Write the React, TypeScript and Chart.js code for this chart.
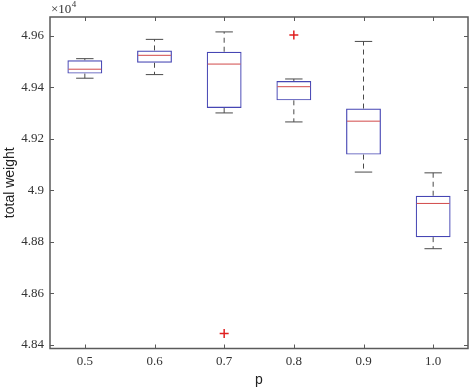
import React, { useEffect, useRef } from "react";
import { Chart, registerables } from "chart.js";

Chart.register(...registerables);

// ---- data (total weight, actual units) ----
const categories = ["0.5", "0.6", "0.7", "0.8", "0.9", "1.0"];
const whiskerLow = [49436, 49450, 49301, 49266, 49071, 48773];
const q1 = [49454, 49496, 49320, 49350, 49139, 48818];
const medians = [49471, 49525, 49491, 49403, 49269, 48949];
const q3 = [49506, 49544, 49539, 49425, 49318, 48979];
const whiskerHigh = [49512, 49587, 49616, 49433, 49579, 49068];
const outliers: (number | null)[] = [null, null, 48443, 49604, null, null];

const yTickValues = [48400, 48600, 48800, 49000, 49200, 49400, 49600];
const yTickLabels = ["4.84", "4.86", "4.88", "4.9", "4.92", "4.94", "4.96"];
const yMin = 48385;
const yMax = 49674;

const BOX_COLOR = "#4646b4";
const MEDIAN_COLOR = "#d24a4a";
const WHISKER_COLOR = "#4a4a4a";
const AXIS_COLOR = "#5a5a5a";
const SERIF = "'Liberation Serif', 'Times New Roman', serif";
const SANS = "'Liberation Sans', Arial, sans-serif";

const boxPlugin = {
  id: "boxExtras",
  afterDatasetsDraw(chart: any) {
    const { ctx, chartArea, scales } = chart;
    const xs = scales.x;
    const ys = scales.y;
    const meta = chart.getDatasetMeta(0);
    ctx.save();
    categories.forEach((_, i) => {
      const bar = meta.data[i];
      const cx = xs.getPixelForValue(i);
      const half = bar ? bar.width / 2 : 17.5;
      const capHalf = half / 2;
      const yLo = ys.getPixelForValue(whiskerLow[i]);
      const yQ1 = ys.getPixelForValue(q1[i]);
      const yMed = ys.getPixelForValue(medians[i]);
      const yQ3 = ys.getPixelForValue(q3[i]);
      const yHi = ys.getPixelForValue(whiskerHigh[i]);
      // whiskers (dashed)
      ctx.strokeStyle = WHISKER_COLOR;
      ctx.lineWidth = 1;
      ctx.setLineDash([5, 4]);
      ctx.beginPath();
      ctx.moveTo(cx, yQ3);
      ctx.lineTo(cx, yHi);
      ctx.moveTo(cx, yQ1);
      ctx.lineTo(cx, yLo);
      ctx.stroke();
      // caps
      ctx.setLineDash([]);
      ctx.beginPath();
      ctx.moveTo(cx - capHalf, yHi);
      ctx.lineTo(cx + capHalf, yHi);
      ctx.moveTo(cx - capHalf, yLo);
      ctx.lineTo(cx + capHalf, yLo);
      ctx.stroke();
      // median
      ctx.strokeStyle = MEDIAN_COLOR;
      ctx.beginPath();
      ctx.moveTo(cx - half + 1, yMed);
      ctx.lineTo(cx + half - 1, yMed);
      ctx.stroke();
    });

    // frame
    const { left, right, top, bottom } = chartArea;
    ctx.strokeStyle = AXIS_COLOR;
    ctx.lineWidth = 1.5;
    ctx.strokeRect(left, top, right - left, bottom - top);
    // inner ticks
    ctx.lineWidth = 1;
    const tl = 4;
    ctx.beginPath();
    yTickValues.forEach((v) => {
      const y = Math.round(ys.getPixelForValue(v)) + 0.5;
      ctx.moveTo(left, y);
      ctx.lineTo(left + tl, y);
      ctx.moveTo(right, y);
      ctx.lineTo(right - tl, y);
    });
    categories.forEach((_, i) => {
      const x = Math.round(xs.getPixelForValue(i)) + 0.5;
      ctx.moveTo(x, bottom);
      ctx.lineTo(x, bottom - tl);
      ctx.moveTo(x, top);
      ctx.lineTo(x, top + tl);
    });
    ctx.stroke();

    // exponent label
    ctx.fillStyle = "#333";
    ctx.textBaseline = "alphabetic";
    ctx.textAlign = "left";
    ctx.font = `13px ${SERIF}`;
    ctx.fillText("\u00d710", left + 1, top - 4.5);
    const w = ctx.measureText("\u00d710").width;
    ctx.font = `9px ${SERIF}`;
    ctx.fillText("4", left + 1 + w + 0.5, top - 10.5);
    ctx.restore();
  },
};

export default function App() {
  const ref = useRef<HTMLCanvasElement | null>(null);
  useEffect(() => {
    if (!ref.current) return;
    const chart = new Chart(ref.current, {
      type: "bar",
      data: {
        labels: categories,
        datasets: [
          {
            type: "bar",
            data: categories.map((_, i) => [q1[i], q3[i]]) as any,
            backgroundColor: "rgba(255,255,255,0)",
            borderColor: BOX_COLOR,
            borderWidth: 1.2,
            borderSkipped: false,
            barPercentage: 0.5,
            categoryPercentage: 1.0,
            order: 2,
          } as any,
          {
            type: "line",
            data: outliers as any,
            showLine: false,
            pointStyle: "cross",
            pointRadius: 4.5,
            pointBorderColor: "#e02020",
            pointBackgroundColor: "#e02020",
            pointBorderWidth: 1.5,
            order: 1,
          } as any,
        ],
      },
      options: {
        animation: false,
        responsive: false,
        maintainAspectRatio: false,
        layout: { padding: { top: 17, right: 4, bottom: 0, left: 0 } },
        plugins: {
          legend: { display: false },
          tooltip: { enabled: false },
        },
        scales: {
          x: {
            type: "category",
            offset: true,
            grid: { display: false, drawTicks: false },
            border: { display: false },
            ticks: {
              color: "#333",
              font: { family: SERIF, size: 13 },
              padding: 5,
              maxRotation: 0,
            },
            title: {
              display: true,
              text: "p",
              color: "#222",
              font: { family: SANS, size: 14 },
              padding: { top: 0, bottom: 2 },
            },
            afterFit: (s: any) => {
              s.height = 42.5;
            },
          },
          y: {
            type: "linear",
            min: yMin,
            max: yMax,
            grid: { display: false, drawTicks: false },
            border: { display: false },
            afterBuildTicks: (s: any) => {
              s.ticks = yTickValues.map((v) => ({ value: v }));
            },
            ticks: {
              color: "#333",
              font: { family: SERIF, size: 13 },
              padding: 6,
              callback: (v: any) => {
                const idx = yTickValues.indexOf(Number(v));
                return idx >= 0 ? yTickLabels[idx] : "";
              },
            },
            title: {
              display: true,
              text: "total weight",
              color: "#222",
              font: { family: SANS, size: 14 },
              padding: { top: 2, bottom: 0 },
            },
            afterFit: (s: any) => {
              s.width = 50;
            },
          },
        },
      },
      plugins: [boxPlugin],
    });
    return () => chart.destroy();
  }, []);
  return (
    <div style={{ position: "absolute", left: 0, top: 0, width: 474, height: 391, background: "#fff" }}>
      <canvas ref={ref} width={474} height={391} style={{ width: 474, height: 391, display: "block" }} />
    </div>
  );
}
